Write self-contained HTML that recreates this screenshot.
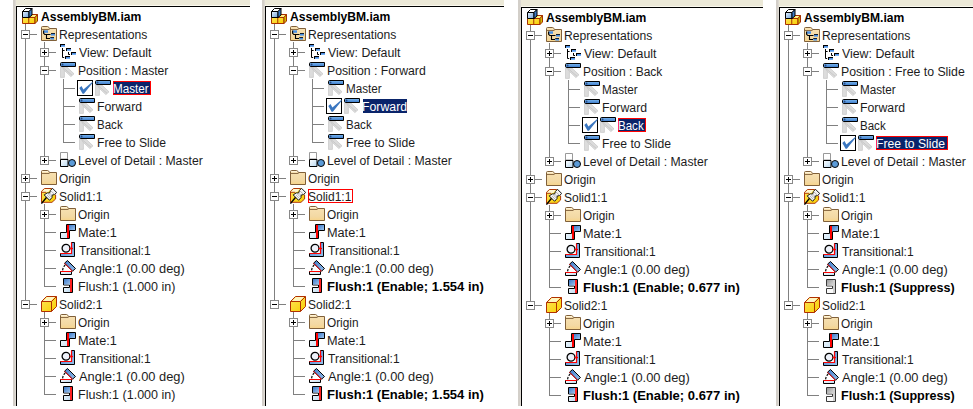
<!DOCTYPE html>
<html><head><meta charset="utf-8">
<style>
html,body{margin:0;padding:0;background:#fff;}
body{width:973px;height:409px;position:relative;overflow:hidden;}
i{position:absolute;display:block;}
.ic{position:absolute;overflow:visible;}
.t{position:absolute;font-family:"Liberation Sans",sans-serif;font-size:12px;line-height:14px;height:14px;white-space:nowrap;color:#1c1c1c;font-weight:normal;transform-origin:0 0;}
.sel{color:#fff;}
.bx{width:7px;height:7px;border:1px solid #888;background:#fff;}
</style></head><body>
<svg width="0" height="0" style="position:absolute">
<defs>
<linearGradient id="gb" x1="0" y1="0" x2="1" y2="1"><stop offset="0" stop-color="#e8f2fc"/><stop offset="1" stop-color="#6fa2dc"/></linearGradient>
<linearGradient id="gbar" x1="0" y1="0" x2="0" y2="1"><stop offset="0" stop-color="#7cb8f0"/><stop offset="1" stop-color="#3a78c8"/></linearGradient>
<linearGradient id="gbl" x1="0" y1="0" x2="1" y2="1"><stop offset="0" stop-color="#3c78c8"/><stop offset="1" stop-color="#9cc4ee"/></linearGradient>
<linearGradient id="gw" x1="0" y1="0" x2="1" y2="1"><stop offset="0" stop-color="#ffffff"/><stop offset="1" stop-color="#b8d8f0"/></linearGradient>
<linearGradient id="gy" x1="0" y1="0" x2="1" y2="1"><stop offset="0" stop-color="#ffe45a"/><stop offset="1" stop-color="#f8d000"/></linearGradient>
<linearGradient id="gf" x1="0" y1="0" x2="0" y2="1"><stop offset="0" stop-color="#f8e2b4"/><stop offset="0.7" stop-color="#f3d9a4"/><stop offset="1" stop-color="#f7d48a"/></linearGradient>
<linearGradient id="gbar2" x1="0" y1="0" x2="0" y2="1"><stop offset="0" stop-color="#3a7ad8"/><stop offset="1" stop-color="#8cc4fa"/></linearGradient>
<symbol id="asm" viewBox="0 0 16 16">
 <path d="M0.5 9.5H13V15.5H0.5Z" fill="url(#gy)" stroke="#a83000"/>
 <path d="M6.75 9.5V15.5" stroke="#a83000"/>
 <path d="M6.5 9.5L9.5 6.5H15.5L13 9.5Z" fill="#ffe860" stroke="#a83000"/>
 <path d="M10.5 8.3L11.5 7.4H13.5L12.5 8.3Z" fill="#fff"/>
 <path d="M13 9.5L15.5 6.5V13L13 15.5Z" fill="#d0c000" stroke="#a83000"/>
 <path d="M0.5 3.5H7V9.5H0.5Z" fill="url(#gb)" stroke="#000"/>
 <path d="M0.5 3.5L3.5 0.5H10L7 3.5Z" fill="#fff" stroke="#000"/>
 <path d="M7 3.5L10 0.5V7L7 9.5Z" fill="#3c7cc8" stroke="#000"/>
</symbol>
<symbol id="rep" viewBox="0 0 16 16">
 <path d="M0.5 14.5V1.5Q0.5 0.5 1.5 0.5H6.5Q7.5 0.5 8 1.7L8.4 2.5H15.5V14.5Z" fill="url(#gf)" stroke="#80603a"/>
 <path d="M1 3.5H8.5" stroke="#80603a" stroke-width="0.9"/>
 <path d="M3 4.3H7V6.8H3Z" fill="#4a90e4"/>
 <path d="M2.6 4.6V7.3L3.8 8.5H9.5M5.5 8.5V12.5H9" fill="none" stroke="#000" stroke-width="1.1"/>
 <path d="M10 7.2H14V9.6H10Z" fill="#4a90e4"/><path d="M10 7.2H14V8H10Z" fill="#000"/>
 <path d="M9.3 11.2H13V13.6H9.3Z" fill="#4a90e4"/><path d="M9.3 11.2H13V12H9.3Z" fill="#000"/>
</symbol>
<symbol id="view" viewBox="0 0 16 16">
<path d="M0 0H5V3H0Z" fill="#000"/><path d="M1 1H5V3H1Z" fill="url(#gbar2)"/>
 <path d="M2.5 4V13.5H4.2M2.5 6.5H4.6" fill="none" stroke="#000"/>
<path d="M6 4H11V7H6Z" fill="#000"/><path d="M7 5H11V7H7Z" fill="url(#gbar2)"/>
 <path d="M8.5 8V10.5H10" fill="none" stroke="#000"/>
<path d="M11 8H16V11H11Z" fill="#000"/><path d="M12 9H16V11H12Z" fill="url(#gbar2)"/><path d="M5 12H10V15H5Z" fill="#000"/><path d="M6 13H10V15H6Z" fill="url(#gbar2)"/>
</symbol>
<symbol id="pos" viewBox="0 0 16 16">
 <path d="M0.4 5.2H4.4V15.4H0.4Z" fill="#dcdcdc" stroke="#c6c6c6" stroke-width="0.7"/>
 <path d="M2.2 5.2H7L14 11.8L10.9 14.6L4.4 8.4Z" fill="#dcdcdc" stroke="#c6c6c6" stroke-width="0.7"/>
 <path d="M3 5.6L12 13.2" stroke="#c0c0c0" stroke-width="0.7"/>
 <path d="M1.7 0.5H15.5V4.5H1.7Q0.5 4.5 0.5 3.3V1.7Q0.5 0.5 1.7 0.5Z" fill="url(#gbar)" stroke="#000"/>
 <circle cx="2.6" cy="2.5" r="0.9" fill="#2a4a80"/>
</symbol>
<symbol id="lod" viewBox="0 0 16 16">
 <path d="M0.5 0.5H7.5V7H0.5Z" fill="#fff" stroke="#999"/>
 <path d="M0.5 7.5H8V14.5H0.5Z" fill="url(#gw)" stroke="#000"/>
 <circle cx="12" cy="11" r="3.5" fill="#5b9bd8" stroke="#000"/>
</symbol>
<symbol id="fold" viewBox="0 0 16 16">
 <path d="M0.5 14.5V1.5Q0.5 0.5 1.5 0.5H6.5Q7.5 0.5 8 1.7L8.4 2.5H15.5V14.5Z" fill="url(#gf)" stroke="#80603a"/>
 <path d="M1 3.5H8.5" stroke="#80603a" stroke-width="0.9"/>
 <path d="M1.2 1.5H7" stroke="#fff6dc" stroke-width="0.9"/>
</symbol>
<symbol id="grd" viewBox="0 0 16 16">
 <path d="M0.5 3.3L3.5 0.5H10.5L13 3V6L14.6 7V11L11 14.3H0.5Z" fill="url(#gy)" stroke="#b03808"/>
 <path d="M1 3.6L3.7 1H9.8L7 4.3H1Z" fill="#fff8d0"/>
 <path d="M0.5 4.3H5.2" stroke="#a83000" stroke-width="0.9"/>
 <path d="M5.6 9.2L0.4 15.6" stroke="#000" stroke-width="1.4"/>
 <path d="M3.2 6.9L6.3 4.9L8.6 5L9.5 2.4L11.5 0.3L15.7 4.5L13.6 6.5L11 7.2L11 9.5L8.6 12.3Z" fill="#f4f4f4" stroke="#000" stroke-width="0.9"/>
 <path d="M9.6 2.6L13.6 6.4M8.6 5.1L11 7.3M6 7L9 10M7.5 6L10 8.8" stroke="#909090" stroke-width="0.6"/>
</symbol>
<symbol id="part" viewBox="0 0 16 16">
 <path d="M0.5 5.5L5.5 0.5H15.5V10.5L10.5 15.5H0.5Z" fill="url(#gy)" stroke="#b03000"/>
 <path d="M0.5 5.5H10.5L15.5 0.5M10.5 5.5V15.5" fill="none" stroke="#b03000"/>
 <path d="M2 5L6 1H14L10 5Z" fill="#fff6c0"/>
</symbol>
<symbol id="mate" viewBox="0 0 16 16">
 <path d="M6.5 0.5H15.5V6.5H9.5V14.5H0.5V8.5H6.5Z" fill="url(#gw)" stroke="#000"/>
 <path d="M9 1H15V6H9Z" fill="url(#gbl)"/>
 <path d="M7 1H9V14H7Z" fill="#ff0000"/>
</symbol>
<symbol id="trans" viewBox="0 0 16 16">
 <path d="M11.5 0.5H14.5V14.5H0.5V11.5H11.5Z" fill="url(#gbl)" stroke="#000"/>
 <path d="M0.5 11.5H11.5V0.5" fill="none" stroke="#ff0000" stroke-width="1.2"/>
 <circle cx="6" cy="6.3" r="3.9" fill="#eef2fa" stroke="#000" stroke-width="1.3"/>
 <path d="M9.5 6.5H13" stroke="#ff0000" stroke-width="1.3"/>
</symbol>
<symbol id="ang" viewBox="0 0 16 16">
 <path d="M0.5 11.5H11.5V14.5H0.5Z" fill="url(#gw)" stroke="#000"/>
 <path d="M0.5 11.5H11.5" stroke="#ff0000"/>
 <path d="M7.5 0.5L15.5 8.5L12.5 11.2L4.5 3.2Z" fill="url(#gbl)" stroke="#000"/>
 <path d="M4.5 3.2L12.5 11.2" stroke="#ff0000"/>
 <path d="M2.6 10.4Q3 7 5.6 4.4" fill="none" stroke="#000" stroke-width="1.2" stroke-dasharray="2.4 1.4"/>
</symbol>
<symbol id="flush" viewBox="0 0 16 16">
 <path d="M3.5 0.5H12.5V14.5H3.5V9.5H9.5V7H3.5Z" fill="url(#gw)" stroke="#000"/>
 <path d="M4 1H10V6.5H4Z" fill="url(#gbl)"/>
 <path d="M10 1H12V14H10Z" fill="#ff2020"/>
</symbol>
<linearGradient id="gg" x1="0" y1="0" x2="1" y2="1"><stop offset="0" stop-color="#9a9a9a"/><stop offset="1" stop-color="#d8d8d8"/></linearGradient>
<symbol id="flushg" viewBox="0 0 16 16">
 <path d="M3.5 0.5H12.5V14.5H3.5V9.5H9.5V7H3.5Z" fill="#fafafa" stroke="#3a3a3a"/>
 <path d="M4 1H10V6.5H4Z" fill="url(#gg)"/>
 <path d="M10 1H12V14H10Z" fill="#cfcfcf"/>
</symbol>
<symbol id="chk" viewBox="0 0 16 16">
 <rect x="0.5" y="0.5" width="15" height="15" fill="#fff" stroke="#000"/>
 <path d="M2.3 7.9L4.5 5.9L6.4 9.5L15.5 1.8V3.1L6.9 13.7H5.6Z" fill="#3a76c0"/>
</symbol>
</defs></svg>
<i style="left:13px;top:0px;width:2px;height:406px;background:#d3cfc9;"></i>
<i style="left:15px;top:0px;width:1px;height:406px;background:#dedad3;"></i>
<i style="left:16px;top:0px;width:234px;height:5px;background:#ece9d8;"></i>
<i style="left:16px;top:5px;width:234px;height:1px;background:#fbf9ee;"></i>
<i style="left:16px;top:6px;width:234px;height:1px;background:#000;"></i>
<i style="left:16px;top:6px;width:1px;height:400px;background:#000;"></i>
<svg class="ic" style="left:22px;top:8px" width="16" height="16"><use href="#asm"/></svg>
<b class="t" style="left:41px;top:10px;font-weight:bold;color:#000;transform:scaleX(1.0101)">AssemblyBM.iam</b>
<i style="left:25px;top:24px;width:1px;height:281px;background:#808080;"></i>
<i style="left:44px;top:42px;width:1px;height:119px;background:#808080;"></i>
<i style="left:63px;top:79px;width:1px;height:64px;background:#808080;"></i>
<i style="left:44px;top:204px;width:1px;height:83px;background:#808080;"></i>
<i style="left:44px;top:312px;width:1px;height:83px;background:#808080;"></i>
<i style="left:25px;top:34px;width:12px;height:1px;background:#808080;"></i>
<i class="bx" style="left:21px;top:30px"></i>
<i style="left:23px;top:34px;width:5px;height:1px;background:#000;"></i>
<svg class="ic" style="left:41px;top:26px" width="16" height="16"><use href="#rep"/></svg>
<b class="t" style="left:59px;top:28px;transform:scaleX(1.0116)">Representations</b>
<i style="left:25px;top:178px;width:12px;height:1px;background:#808080;"></i>
<i class="bx" style="left:21px;top:174px"></i>
<i style="left:23px;top:178px;width:5px;height:1px;background:#000;"></i>
<i style="left:25px;top:176px;width:1px;height:5px;background:#000;"></i>
<svg class="ic" style="left:41px;top:170px" width="16" height="16"><use href="#fold"/></svg>
<b class="t" style="left:59px;top:172px;transform:scaleX(0.9839)">Origin</b>
<i style="left:25px;top:196px;width:12px;height:1px;background:#808080;"></i>
<i class="bx" style="left:21px;top:192px"></i>
<i style="left:23px;top:196px;width:5px;height:1px;background:#000;"></i>
<svg class="ic" style="left:41px;top:188px" width="16" height="16"><use href="#grd"/></svg>
<b class="t" style="left:59px;top:190px;transform:scaleX(1.0000)">Solid1:1</b>
<i style="left:25px;top:304px;width:12px;height:1px;background:#808080;"></i>
<i class="bx" style="left:21px;top:300px"></i>
<i style="left:23px;top:304px;width:5px;height:1px;background:#000;"></i>
<svg class="ic" style="left:41px;top:296px" width="16" height="16"><use href="#part"/></svg>
<b class="t" style="left:59px;top:298px;transform:scaleX(1.0000)">Solid2:1</b>
<i style="left:44px;top:52px;width:12px;height:1px;background:#808080;"></i>
<i class="bx" style="left:40px;top:48px"></i>
<i style="left:42px;top:52px;width:5px;height:1px;background:#000;"></i>
<i style="left:44px;top:50px;width:1px;height:5px;background:#000;"></i>
<svg class="ic" style="left:60px;top:44px" width="16" height="16"><use href="#view"/></svg>
<b class="t" style="left:79px;top:46px;transform:scaleX(1.0282)">View: Default</b>
<i style="left:44px;top:70px;width:12px;height:1px;background:#808080;"></i>
<i class="bx" style="left:40px;top:66px"></i>
<i style="left:42px;top:70px;width:5px;height:1px;background:#000;"></i>
<svg class="ic" style="left:60px;top:62px" width="16" height="16"><use href="#pos"/></svg>
<b class="t" style="left:78px;top:64px;transform:scaleX(1.0114)">Position : Master</b>
<i style="left:44px;top:160px;width:12px;height:1px;background:#808080;"></i>
<i class="bx" style="left:40px;top:156px"></i>
<i style="left:42px;top:160px;width:5px;height:1px;background:#000;"></i>
<i style="left:44px;top:158px;width:1px;height:5px;background:#000;"></i>
<svg class="ic" style="left:60px;top:152px" width="16" height="16"><use href="#lod"/></svg>
<b class="t" style="left:78px;top:154px;transform:scaleX(1.0164)">Level of Detail : Master</b>
<i style="left:44px;top:214px;width:12px;height:1px;background:#808080;"></i>
<i class="bx" style="left:40px;top:210px"></i>
<i style="left:42px;top:214px;width:5px;height:1px;background:#000;"></i>
<i style="left:44px;top:212px;width:1px;height:5px;background:#000;"></i>
<svg class="ic" style="left:60px;top:206px" width="16" height="16"><use href="#fold"/></svg>
<b class="t" style="left:78px;top:208px;transform:scaleX(0.9839)">Origin</b>
<i style="left:44px;top:232px;width:12px;height:1px;background:#808080;"></i>
<svg class="ic" style="left:60px;top:224px" width="16" height="16"><use href="#mate"/></svg>
<b class="t" style="left:78px;top:226px;transform:scaleX(1.0571)">Mate:1</b>
<i style="left:44px;top:250px;width:12px;height:1px;background:#808080;"></i>
<svg class="ic" style="left:60px;top:242px" width="16" height="16"><use href="#trans"/></svg>
<b class="t" style="left:79px;top:244px;transform:scaleX(1.0000)">Transitional:1</b>
<i style="left:44px;top:268px;width:12px;height:1px;background:#808080;"></i>
<svg class="ic" style="left:60px;top:260px" width="16" height="16"><use href="#ang"/></svg>
<b class="t" style="left:79px;top:262px;transform:scaleX(1.0714)">Angle:1 (0.00 deg)</b>
<i style="left:44px;top:286px;width:12px;height:1px;background:#808080;"></i>
<svg class="ic" style="left:60px;top:278px" width="16" height="16"><use href="#flush"/></svg>
<b class="t" style="left:78px;top:280px;transform:scaleX(1.0435)">Flush:1 (1.000 in)</b>
<i style="left:44px;top:322px;width:12px;height:1px;background:#808080;"></i>
<i class="bx" style="left:40px;top:318px"></i>
<i style="left:42px;top:322px;width:5px;height:1px;background:#000;"></i>
<i style="left:44px;top:320px;width:1px;height:5px;background:#000;"></i>
<svg class="ic" style="left:60px;top:314px" width="16" height="16"><use href="#fold"/></svg>
<b class="t" style="left:78px;top:316px;transform:scaleX(0.9839)">Origin</b>
<i style="left:44px;top:340px;width:12px;height:1px;background:#808080;"></i>
<svg class="ic" style="left:60px;top:332px" width="16" height="16"><use href="#mate"/></svg>
<b class="t" style="left:78px;top:334px;transform:scaleX(1.0571)">Mate:1</b>
<i style="left:44px;top:358px;width:12px;height:1px;background:#808080;"></i>
<svg class="ic" style="left:60px;top:350px" width="16" height="16"><use href="#trans"/></svg>
<b class="t" style="left:79px;top:352px;transform:scaleX(1.0000)">Transitional:1</b>
<i style="left:44px;top:376px;width:12px;height:1px;background:#808080;"></i>
<svg class="ic" style="left:60px;top:368px" width="16" height="16"><use href="#ang"/></svg>
<b class="t" style="left:79px;top:370px;transform:scaleX(1.0714)">Angle:1 (0.00 deg)</b>
<i style="left:44px;top:394px;width:12px;height:1px;background:#808080;"></i>
<svg class="ic" style="left:60px;top:386px" width="16" height="16"><use href="#flush"/></svg>
<b class="t" style="left:78px;top:388px;transform:scaleX(1.0435)">Flush:1 (1.000 in)</b>
<i style="left:63px;top:88px;width:12px;height:1px;background:#808080;"></i>
<svg class="ic" style="left:77px;top:80px" width="16" height="16"><use href="#chk"/></svg>
<svg class="ic" style="left:95px;top:80px" width="16" height="16"><use href="#pos"/></svg>
<i style="left:113px;top:81px;width:38px;height:14px;background:#0a246a;box-sizing:border-box;border:1px solid #ff0000;"></i>
<b class="t sel" style="left:113px;top:82px;transform:scaleX(0.9722)">Master</b>
<i style="left:63px;top:106px;width:12px;height:1px;background:#808080;"></i>
<svg class="ic" style="left:79px;top:98px" width="16" height="16"><use href="#pos"/></svg>
<b class="t" style="left:97px;top:100px;transform:scaleX(1.0238)">Forward</b>
<i style="left:63px;top:124px;width:12px;height:1px;background:#808080;"></i>
<svg class="ic" style="left:79px;top:116px" width="16" height="16"><use href="#pos"/></svg>
<b class="t" style="left:97px;top:118px;transform:scaleX(0.9615)">Back</b>
<i style="left:63px;top:142px;width:12px;height:1px;background:#808080;"></i>
<svg class="ic" style="left:79px;top:134px" width="16" height="16"><use href="#pos"/></svg>
<b class="t" style="left:97px;top:136px;transform:scaleX(1.0149)">Free to Slide</b>
<i style="left:262px;top:0px;width:2px;height:406px;background:#d3cfc9;"></i>
<i style="left:264px;top:0px;width:1px;height:406px;background:#dedad3;"></i>
<i style="left:265px;top:0px;width:239px;height:5px;background:#ece9d8;"></i>
<i style="left:265px;top:5px;width:239px;height:1px;background:#fbf9ee;"></i>
<i style="left:265px;top:6px;width:239px;height:1px;background:#000;"></i>
<i style="left:265px;top:6px;width:1px;height:400px;background:#000;"></i>
<svg class="ic" style="left:271px;top:8px" width="16" height="16"><use href="#asm"/></svg>
<b class="t" style="left:290px;top:10px;font-weight:bold;color:#000;transform:scaleX(1.0101)">AssemblyBM.iam</b>
<i style="left:274px;top:24px;width:1px;height:281px;background:#808080;"></i>
<i style="left:293px;top:42px;width:1px;height:119px;background:#808080;"></i>
<i style="left:312px;top:79px;width:1px;height:64px;background:#808080;"></i>
<i style="left:293px;top:204px;width:1px;height:83px;background:#808080;"></i>
<i style="left:293px;top:312px;width:1px;height:83px;background:#808080;"></i>
<i style="left:274px;top:34px;width:12px;height:1px;background:#808080;"></i>
<i class="bx" style="left:270px;top:30px"></i>
<i style="left:272px;top:34px;width:5px;height:1px;background:#000;"></i>
<svg class="ic" style="left:290px;top:26px" width="16" height="16"><use href="#rep"/></svg>
<b class="t" style="left:308px;top:28px;transform:scaleX(1.0116)">Representations</b>
<i style="left:274px;top:178px;width:12px;height:1px;background:#808080;"></i>
<i class="bx" style="left:270px;top:174px"></i>
<i style="left:272px;top:178px;width:5px;height:1px;background:#000;"></i>
<i style="left:274px;top:176px;width:1px;height:5px;background:#000;"></i>
<svg class="ic" style="left:290px;top:170px" width="16" height="16"><use href="#fold"/></svg>
<b class="t" style="left:308px;top:172px;transform:scaleX(0.9839)">Origin</b>
<i style="left:274px;top:196px;width:12px;height:1px;background:#808080;"></i>
<i class="bx" style="left:270px;top:192px"></i>
<i style="left:272px;top:196px;width:5px;height:1px;background:#000;"></i>
<svg class="ic" style="left:290px;top:188px" width="16" height="16"><use href="#grd"/></svg>
<b class="t" style="left:308px;top:190px;transform:scaleX(1.0000)">Solid1:1</b>
<i style="left:274px;top:304px;width:12px;height:1px;background:#808080;"></i>
<i class="bx" style="left:270px;top:300px"></i>
<i style="left:272px;top:304px;width:5px;height:1px;background:#000;"></i>
<svg class="ic" style="left:290px;top:296px" width="16" height="16"><use href="#part"/></svg>
<b class="t" style="left:308px;top:298px;transform:scaleX(1.0000)">Solid2:1</b>
<i style="left:293px;top:52px;width:12px;height:1px;background:#808080;"></i>
<i class="bx" style="left:289px;top:48px"></i>
<i style="left:291px;top:52px;width:5px;height:1px;background:#000;"></i>
<i style="left:293px;top:50px;width:1px;height:5px;background:#000;"></i>
<svg class="ic" style="left:309px;top:44px" width="16" height="16"><use href="#view"/></svg>
<b class="t" style="left:328px;top:46px;transform:scaleX(1.0282)">View: Default</b>
<i style="left:293px;top:70px;width:12px;height:1px;background:#808080;"></i>
<i class="bx" style="left:289px;top:66px"></i>
<i style="left:291px;top:70px;width:5px;height:1px;background:#000;"></i>
<svg class="ic" style="left:309px;top:62px" width="16" height="16"><use href="#pos"/></svg>
<b class="t" style="left:327px;top:64px;transform:scaleX(1.0211)">Position : Forward</b>
<i style="left:293px;top:160px;width:12px;height:1px;background:#808080;"></i>
<i class="bx" style="left:289px;top:156px"></i>
<i style="left:291px;top:160px;width:5px;height:1px;background:#000;"></i>
<i style="left:293px;top:158px;width:1px;height:5px;background:#000;"></i>
<svg class="ic" style="left:309px;top:152px" width="16" height="16"><use href="#lod"/></svg>
<b class="t" style="left:327px;top:154px;transform:scaleX(1.0164)">Level of Detail : Master</b>
<i style="left:293px;top:214px;width:12px;height:1px;background:#808080;"></i>
<i class="bx" style="left:289px;top:210px"></i>
<i style="left:291px;top:214px;width:5px;height:1px;background:#000;"></i>
<i style="left:293px;top:212px;width:1px;height:5px;background:#000;"></i>
<svg class="ic" style="left:309px;top:206px" width="16" height="16"><use href="#fold"/></svg>
<b class="t" style="left:327px;top:208px;transform:scaleX(0.9839)">Origin</b>
<i style="left:293px;top:232px;width:12px;height:1px;background:#808080;"></i>
<svg class="ic" style="left:309px;top:224px" width="16" height="16"><use href="#mate"/></svg>
<b class="t" style="left:327px;top:226px;transform:scaleX(1.0571)">Mate:1</b>
<i style="left:293px;top:250px;width:12px;height:1px;background:#808080;"></i>
<svg class="ic" style="left:309px;top:242px" width="16" height="16"><use href="#trans"/></svg>
<b class="t" style="left:328px;top:244px;transform:scaleX(1.0000)">Transitional:1</b>
<i style="left:293px;top:268px;width:12px;height:1px;background:#808080;"></i>
<svg class="ic" style="left:309px;top:260px" width="16" height="16"><use href="#ang"/></svg>
<b class="t" style="left:328px;top:262px;transform:scaleX(1.0714)">Angle:1 (0.00 deg)</b>
<i style="left:293px;top:286px;width:12px;height:1px;background:#808080;"></i>
<svg class="ic" style="left:309px;top:278px" width="16" height="16"><use href="#flush"/></svg>
<b class="t" style="left:327px;top:280px;font-weight:bold;color:#000;transform:scaleX(1.0839)">Flush:1 (Enable; 1.554 in)</b>
<i style="left:293px;top:322px;width:12px;height:1px;background:#808080;"></i>
<i class="bx" style="left:289px;top:318px"></i>
<i style="left:291px;top:322px;width:5px;height:1px;background:#000;"></i>
<i style="left:293px;top:320px;width:1px;height:5px;background:#000;"></i>
<svg class="ic" style="left:309px;top:314px" width="16" height="16"><use href="#fold"/></svg>
<b class="t" style="left:327px;top:316px;transform:scaleX(0.9839)">Origin</b>
<i style="left:293px;top:340px;width:12px;height:1px;background:#808080;"></i>
<svg class="ic" style="left:309px;top:332px" width="16" height="16"><use href="#mate"/></svg>
<b class="t" style="left:327px;top:334px;transform:scaleX(1.0571)">Mate:1</b>
<i style="left:293px;top:358px;width:12px;height:1px;background:#808080;"></i>
<svg class="ic" style="left:309px;top:350px" width="16" height="16"><use href="#trans"/></svg>
<b class="t" style="left:328px;top:352px;transform:scaleX(1.0000)">Transitional:1</b>
<i style="left:293px;top:376px;width:12px;height:1px;background:#808080;"></i>
<svg class="ic" style="left:309px;top:368px" width="16" height="16"><use href="#ang"/></svg>
<b class="t" style="left:328px;top:370px;transform:scaleX(1.0714)">Angle:1 (0.00 deg)</b>
<i style="left:293px;top:394px;width:12px;height:1px;background:#808080;"></i>
<svg class="ic" style="left:309px;top:386px" width="16" height="16"><use href="#flush"/></svg>
<b class="t" style="left:327px;top:388px;font-weight:bold;color:#000;transform:scaleX(1.0839)">Flush:1 (Enable; 1.554 in)</b>
<i style="left:312px;top:88px;width:12px;height:1px;background:#808080;"></i>
<svg class="ic" style="left:328px;top:80px" width="16" height="16"><use href="#pos"/></svg>
<b class="t" style="left:346px;top:82px;transform:scaleX(0.9722)">Master</b>
<i style="left:312px;top:106px;width:12px;height:1px;background:#808080;"></i>
<svg class="ic" style="left:326px;top:98px" width="16" height="16"><use href="#chk"/></svg>
<svg class="ic" style="left:344px;top:98px" width="16" height="16"><use href="#pos"/></svg>
<i style="left:363px;top:99px;width:44px;height:14px;background:#0a246a;"></i>
<b class="t sel" style="left:362px;top:100px;transform:scaleX(1.0238)">Forward</b>
<i style="left:312px;top:124px;width:12px;height:1px;background:#808080;"></i>
<svg class="ic" style="left:328px;top:116px" width="16" height="16"><use href="#pos"/></svg>
<b class="t" style="left:346px;top:118px;transform:scaleX(0.9615)">Back</b>
<i style="left:312px;top:142px;width:12px;height:1px;background:#808080;"></i>
<svg class="ic" style="left:328px;top:134px" width="16" height="16"><use href="#pos"/></svg>
<b class="t" style="left:346px;top:136px;transform:scaleX(1.0149)">Free to Slide</b>
<i style="left:308px;top:189px;width:45px;height:14px;background:transparent;box-sizing:border-box;border:1px solid #ff0000;"></i>
<i style="left:518px;top:0px;width:2px;height:406px;background:#d3cfc9;"></i>
<i style="left:520px;top:0px;width:1px;height:406px;background:#dedad3;"></i>
<i style="left:521px;top:0px;width:242px;height:6px;background:#ece9d8;"></i>
<i style="left:521px;top:6px;width:242px;height:1px;background:#fbf9ee;"></i>
<i style="left:521px;top:7px;width:242px;height:1px;background:#000;"></i>
<i style="left:521px;top:7px;width:1px;height:399px;background:#000;"></i>
<svg class="ic" style="left:527px;top:9px" width="16" height="16"><use href="#asm"/></svg>
<b class="t" style="left:546px;top:11px;font-weight:bold;color:#000;transform:scaleX(1.0101)">AssemblyBM.iam</b>
<i style="left:530px;top:25px;width:1px;height:281px;background:#808080;"></i>
<i style="left:549px;top:43px;width:1px;height:119px;background:#808080;"></i>
<i style="left:568px;top:80px;width:1px;height:64px;background:#808080;"></i>
<i style="left:549px;top:205px;width:1px;height:83px;background:#808080;"></i>
<i style="left:549px;top:313px;width:1px;height:83px;background:#808080;"></i>
<i style="left:530px;top:35px;width:12px;height:1px;background:#808080;"></i>
<i class="bx" style="left:526px;top:31px"></i>
<i style="left:528px;top:35px;width:5px;height:1px;background:#000;"></i>
<svg class="ic" style="left:546px;top:27px" width="16" height="16"><use href="#rep"/></svg>
<b class="t" style="left:564px;top:29px;transform:scaleX(1.0116)">Representations</b>
<i style="left:530px;top:179px;width:12px;height:1px;background:#808080;"></i>
<i class="bx" style="left:526px;top:175px"></i>
<i style="left:528px;top:179px;width:5px;height:1px;background:#000;"></i>
<i style="left:530px;top:177px;width:1px;height:5px;background:#000;"></i>
<svg class="ic" style="left:546px;top:171px" width="16" height="16"><use href="#fold"/></svg>
<b class="t" style="left:564px;top:173px;transform:scaleX(0.9839)">Origin</b>
<i style="left:530px;top:197px;width:12px;height:1px;background:#808080;"></i>
<i class="bx" style="left:526px;top:193px"></i>
<i style="left:528px;top:197px;width:5px;height:1px;background:#000;"></i>
<svg class="ic" style="left:546px;top:189px" width="16" height="16"><use href="#grd"/></svg>
<b class="t" style="left:564px;top:191px;transform:scaleX(1.0000)">Solid1:1</b>
<i style="left:530px;top:305px;width:12px;height:1px;background:#808080;"></i>
<i class="bx" style="left:526px;top:301px"></i>
<i style="left:528px;top:305px;width:5px;height:1px;background:#000;"></i>
<svg class="ic" style="left:546px;top:297px" width="16" height="16"><use href="#part"/></svg>
<b class="t" style="left:564px;top:299px;transform:scaleX(1.0000)">Solid2:1</b>
<i style="left:549px;top:53px;width:12px;height:1px;background:#808080;"></i>
<i class="bx" style="left:545px;top:49px"></i>
<i style="left:547px;top:53px;width:5px;height:1px;background:#000;"></i>
<i style="left:549px;top:51px;width:1px;height:5px;background:#000;"></i>
<svg class="ic" style="left:565px;top:45px" width="16" height="16"><use href="#view"/></svg>
<b class="t" style="left:584px;top:47px;transform:scaleX(1.0282)">View: Default</b>
<i style="left:549px;top:71px;width:12px;height:1px;background:#808080;"></i>
<i class="bx" style="left:545px;top:67px"></i>
<i style="left:547px;top:71px;width:5px;height:1px;background:#000;"></i>
<svg class="ic" style="left:565px;top:63px" width="16" height="16"><use href="#pos"/></svg>
<b class="t" style="left:583px;top:65px;transform:scaleX(1.0000)">Position : Back</b>
<i style="left:549px;top:161px;width:12px;height:1px;background:#808080;"></i>
<i class="bx" style="left:545px;top:157px"></i>
<i style="left:547px;top:161px;width:5px;height:1px;background:#000;"></i>
<i style="left:549px;top:159px;width:1px;height:5px;background:#000;"></i>
<svg class="ic" style="left:565px;top:153px" width="16" height="16"><use href="#lod"/></svg>
<b class="t" style="left:583px;top:155px;transform:scaleX(1.0164)">Level of Detail : Master</b>
<i style="left:549px;top:215px;width:12px;height:1px;background:#808080;"></i>
<i class="bx" style="left:545px;top:211px"></i>
<i style="left:547px;top:215px;width:5px;height:1px;background:#000;"></i>
<i style="left:549px;top:213px;width:1px;height:5px;background:#000;"></i>
<svg class="ic" style="left:565px;top:207px" width="16" height="16"><use href="#fold"/></svg>
<b class="t" style="left:583px;top:209px;transform:scaleX(0.9839)">Origin</b>
<i style="left:549px;top:233px;width:12px;height:1px;background:#808080;"></i>
<svg class="ic" style="left:565px;top:225px" width="16" height="16"><use href="#mate"/></svg>
<b class="t" style="left:583px;top:227px;transform:scaleX(1.0571)">Mate:1</b>
<i style="left:549px;top:251px;width:12px;height:1px;background:#808080;"></i>
<svg class="ic" style="left:565px;top:243px" width="16" height="16"><use href="#trans"/></svg>
<b class="t" style="left:584px;top:245px;transform:scaleX(1.0000)">Transitional:1</b>
<i style="left:549px;top:269px;width:12px;height:1px;background:#808080;"></i>
<svg class="ic" style="left:565px;top:261px" width="16" height="16"><use href="#ang"/></svg>
<b class="t" style="left:584px;top:263px;transform:scaleX(1.0714)">Angle:1 (0.00 deg)</b>
<i style="left:549px;top:287px;width:12px;height:1px;background:#808080;"></i>
<svg class="ic" style="left:565px;top:279px" width="16" height="16"><use href="#flush"/></svg>
<b class="t" style="left:583px;top:281px;font-weight:bold;color:#000;transform:scaleX(1.0839)">Flush:1 (Enable; 0.677 in)</b>
<i style="left:549px;top:323px;width:12px;height:1px;background:#808080;"></i>
<i class="bx" style="left:545px;top:319px"></i>
<i style="left:547px;top:323px;width:5px;height:1px;background:#000;"></i>
<i style="left:549px;top:321px;width:1px;height:5px;background:#000;"></i>
<svg class="ic" style="left:565px;top:315px" width="16" height="16"><use href="#fold"/></svg>
<b class="t" style="left:583px;top:317px;transform:scaleX(0.9839)">Origin</b>
<i style="left:549px;top:341px;width:12px;height:1px;background:#808080;"></i>
<svg class="ic" style="left:565px;top:333px" width="16" height="16"><use href="#mate"/></svg>
<b class="t" style="left:583px;top:335px;transform:scaleX(1.0571)">Mate:1</b>
<i style="left:549px;top:359px;width:12px;height:1px;background:#808080;"></i>
<svg class="ic" style="left:565px;top:351px" width="16" height="16"><use href="#trans"/></svg>
<b class="t" style="left:584px;top:353px;transform:scaleX(1.0000)">Transitional:1</b>
<i style="left:549px;top:377px;width:12px;height:1px;background:#808080;"></i>
<svg class="ic" style="left:565px;top:369px" width="16" height="16"><use href="#ang"/></svg>
<b class="t" style="left:584px;top:371px;transform:scaleX(1.0714)">Angle:1 (0.00 deg)</b>
<i style="left:549px;top:395px;width:12px;height:1px;background:#808080;"></i>
<svg class="ic" style="left:565px;top:387px" width="16" height="16"><use href="#flush"/></svg>
<b class="t" style="left:583px;top:389px;font-weight:bold;color:#000;transform:scaleX(1.0839)">Flush:1 (Enable; 0.677 in)</b>
<i style="left:568px;top:89px;width:12px;height:1px;background:#808080;"></i>
<svg class="ic" style="left:584px;top:81px" width="16" height="16"><use href="#pos"/></svg>
<b class="t" style="left:602px;top:83px;transform:scaleX(0.9722)">Master</b>
<i style="left:568px;top:107px;width:12px;height:1px;background:#808080;"></i>
<svg class="ic" style="left:584px;top:99px" width="16" height="16"><use href="#pos"/></svg>
<b class="t" style="left:602px;top:101px;transform:scaleX(1.0238)">Forward</b>
<i style="left:568px;top:125px;width:12px;height:1px;background:#808080;"></i>
<svg class="ic" style="left:582px;top:117px" width="16" height="16"><use href="#chk"/></svg>
<svg class="ic" style="left:600px;top:117px" width="16" height="16"><use href="#pos"/></svg>
<i style="left:618px;top:118px;width:28px;height:14px;background:#0a246a;box-sizing:border-box;border:1px solid #ff0000;"></i>
<b class="t sel" style="left:618px;top:119px;transform:scaleX(0.9615)">Back</b>
<i style="left:568px;top:143px;width:12px;height:1px;background:#808080;"></i>
<svg class="ic" style="left:584px;top:135px" width="16" height="16"><use href="#pos"/></svg>
<b class="t" style="left:602px;top:137px;transform:scaleX(1.0149)">Free to Slide</b>
<i style="left:776px;top:0px;width:2px;height:406px;background:#d3cfc9;"></i>
<i style="left:778px;top:0px;width:1px;height:406px;background:#dedad3;"></i>
<i style="left:779px;top:0px;width:194px;height:6px;background:#ece9d8;"></i>
<i style="left:779px;top:6px;width:194px;height:1px;background:#fbf9ee;"></i>
<i style="left:779px;top:7px;width:194px;height:1px;background:#000;"></i>
<i style="left:779px;top:7px;width:1px;height:399px;background:#000;"></i>
<svg class="ic" style="left:785px;top:9px" width="16" height="16"><use href="#asm"/></svg>
<b class="t" style="left:804px;top:11px;font-weight:bold;color:#000;transform:scaleX(1.0101)">AssemblyBM.iam</b>
<i style="left:788px;top:25px;width:1px;height:281px;background:#808080;"></i>
<i style="left:807px;top:43px;width:1px;height:119px;background:#808080;"></i>
<i style="left:826px;top:80px;width:1px;height:64px;background:#808080;"></i>
<i style="left:807px;top:205px;width:1px;height:83px;background:#808080;"></i>
<i style="left:807px;top:313px;width:1px;height:83px;background:#808080;"></i>
<i style="left:788px;top:35px;width:12px;height:1px;background:#808080;"></i>
<i class="bx" style="left:784px;top:31px"></i>
<i style="left:786px;top:35px;width:5px;height:1px;background:#000;"></i>
<svg class="ic" style="left:804px;top:27px" width="16" height="16"><use href="#rep"/></svg>
<b class="t" style="left:822px;top:29px;transform:scaleX(1.0116)">Representations</b>
<i style="left:788px;top:179px;width:12px;height:1px;background:#808080;"></i>
<i class="bx" style="left:784px;top:175px"></i>
<i style="left:786px;top:179px;width:5px;height:1px;background:#000;"></i>
<i style="left:788px;top:177px;width:1px;height:5px;background:#000;"></i>
<svg class="ic" style="left:804px;top:171px" width="16" height="16"><use href="#fold"/></svg>
<b class="t" style="left:822px;top:173px;transform:scaleX(0.9839)">Origin</b>
<i style="left:788px;top:197px;width:12px;height:1px;background:#808080;"></i>
<i class="bx" style="left:784px;top:193px"></i>
<i style="left:786px;top:197px;width:5px;height:1px;background:#000;"></i>
<svg class="ic" style="left:804px;top:189px" width="16" height="16"><use href="#grd"/></svg>
<b class="t" style="left:822px;top:191px;transform:scaleX(1.0000)">Solid1:1</b>
<i style="left:788px;top:305px;width:12px;height:1px;background:#808080;"></i>
<i class="bx" style="left:784px;top:301px"></i>
<i style="left:786px;top:305px;width:5px;height:1px;background:#000;"></i>
<svg class="ic" style="left:804px;top:297px" width="16" height="16"><use href="#part"/></svg>
<b class="t" style="left:822px;top:299px;transform:scaleX(1.0000)">Solid2:1</b>
<i style="left:807px;top:53px;width:12px;height:1px;background:#808080;"></i>
<i class="bx" style="left:803px;top:49px"></i>
<i style="left:805px;top:53px;width:5px;height:1px;background:#000;"></i>
<i style="left:807px;top:51px;width:1px;height:5px;background:#000;"></i>
<svg class="ic" style="left:823px;top:45px" width="16" height="16"><use href="#view"/></svg>
<b class="t" style="left:842px;top:47px;transform:scaleX(1.0282)">View: Default</b>
<i style="left:807px;top:71px;width:12px;height:1px;background:#808080;"></i>
<i class="bx" style="left:803px;top:67px"></i>
<i style="left:805px;top:71px;width:5px;height:1px;background:#000;"></i>
<svg class="ic" style="left:823px;top:63px" width="16" height="16"><use href="#pos"/></svg>
<b class="t" style="left:841px;top:65px;transform:scaleX(1.0252)">Position : Free to Slide</b>
<i style="left:807px;top:161px;width:12px;height:1px;background:#808080;"></i>
<i class="bx" style="left:803px;top:157px"></i>
<i style="left:805px;top:161px;width:5px;height:1px;background:#000;"></i>
<i style="left:807px;top:159px;width:1px;height:5px;background:#000;"></i>
<svg class="ic" style="left:823px;top:153px" width="16" height="16"><use href="#lod"/></svg>
<b class="t" style="left:841px;top:155px;transform:scaleX(1.0164)">Level of Detail : Master</b>
<i style="left:807px;top:215px;width:12px;height:1px;background:#808080;"></i>
<i class="bx" style="left:803px;top:211px"></i>
<i style="left:805px;top:215px;width:5px;height:1px;background:#000;"></i>
<i style="left:807px;top:213px;width:1px;height:5px;background:#000;"></i>
<svg class="ic" style="left:823px;top:207px" width="16" height="16"><use href="#fold"/></svg>
<b class="t" style="left:841px;top:209px;transform:scaleX(0.9839)">Origin</b>
<i style="left:807px;top:233px;width:12px;height:1px;background:#808080;"></i>
<svg class="ic" style="left:823px;top:225px" width="16" height="16"><use href="#mate"/></svg>
<b class="t" style="left:841px;top:227px;transform:scaleX(1.0571)">Mate:1</b>
<i style="left:807px;top:251px;width:12px;height:1px;background:#808080;"></i>
<svg class="ic" style="left:823px;top:243px" width="16" height="16"><use href="#trans"/></svg>
<b class="t" style="left:842px;top:245px;transform:scaleX(1.0000)">Transitional:1</b>
<i style="left:807px;top:269px;width:12px;height:1px;background:#808080;"></i>
<svg class="ic" style="left:823px;top:261px" width="16" height="16"><use href="#ang"/></svg>
<b class="t" style="left:842px;top:263px;transform:scaleX(1.0714)">Angle:1 (0.00 deg)</b>
<i style="left:807px;top:287px;width:12px;height:1px;background:#808080;"></i>
<svg class="ic" style="left:823px;top:279px" width="16" height="16"><use href="#flushg"/></svg>
<b class="t" style="left:841px;top:281px;font-weight:bold;color:#000;transform:scaleX(1.0467)">Flush:1 (Suppress)</b>
<i style="left:807px;top:323px;width:12px;height:1px;background:#808080;"></i>
<i class="bx" style="left:803px;top:319px"></i>
<i style="left:805px;top:323px;width:5px;height:1px;background:#000;"></i>
<i style="left:807px;top:321px;width:1px;height:5px;background:#000;"></i>
<svg class="ic" style="left:823px;top:315px" width="16" height="16"><use href="#fold"/></svg>
<b class="t" style="left:841px;top:317px;transform:scaleX(0.9839)">Origin</b>
<i style="left:807px;top:341px;width:12px;height:1px;background:#808080;"></i>
<svg class="ic" style="left:823px;top:333px" width="16" height="16"><use href="#mate"/></svg>
<b class="t" style="left:841px;top:335px;transform:scaleX(1.0571)">Mate:1</b>
<i style="left:807px;top:359px;width:12px;height:1px;background:#808080;"></i>
<svg class="ic" style="left:823px;top:351px" width="16" height="16"><use href="#trans"/></svg>
<b class="t" style="left:842px;top:353px;transform:scaleX(1.0000)">Transitional:1</b>
<i style="left:807px;top:377px;width:12px;height:1px;background:#808080;"></i>
<svg class="ic" style="left:823px;top:369px" width="16" height="16"><use href="#ang"/></svg>
<b class="t" style="left:842px;top:371px;transform:scaleX(1.0714)">Angle:1 (0.00 deg)</b>
<i style="left:807px;top:395px;width:12px;height:1px;background:#808080;"></i>
<svg class="ic" style="left:823px;top:387px" width="16" height="16"><use href="#flushg"/></svg>
<b class="t" style="left:841px;top:389px;font-weight:bold;color:#000;transform:scaleX(1.0467)">Flush:1 (Suppress)</b>
<i style="left:826px;top:89px;width:12px;height:1px;background:#808080;"></i>
<svg class="ic" style="left:842px;top:81px" width="16" height="16"><use href="#pos"/></svg>
<b class="t" style="left:860px;top:83px;transform:scaleX(0.9722)">Master</b>
<i style="left:826px;top:107px;width:12px;height:1px;background:#808080;"></i>
<svg class="ic" style="left:842px;top:99px" width="16" height="16"><use href="#pos"/></svg>
<b class="t" style="left:860px;top:101px;transform:scaleX(1.0238)">Forward</b>
<i style="left:826px;top:125px;width:12px;height:1px;background:#808080;"></i>
<svg class="ic" style="left:842px;top:117px" width="16" height="16"><use href="#pos"/></svg>
<b class="t" style="left:860px;top:119px;transform:scaleX(0.9615)">Back</b>
<i style="left:826px;top:143px;width:12px;height:1px;background:#808080;"></i>
<svg class="ic" style="left:840px;top:135px" width="16" height="16"><use href="#chk"/></svg>
<svg class="ic" style="left:858px;top:135px" width="16" height="16"><use href="#pos"/></svg>
<i style="left:876px;top:136px;width:72px;height:14px;background:#0a246a;box-sizing:border-box;border:1px solid #ff0000;"></i>
<b class="t sel" style="left:876px;top:137px;transform:scaleX(1.0149)">Free to Slide</b>
</body></html>
